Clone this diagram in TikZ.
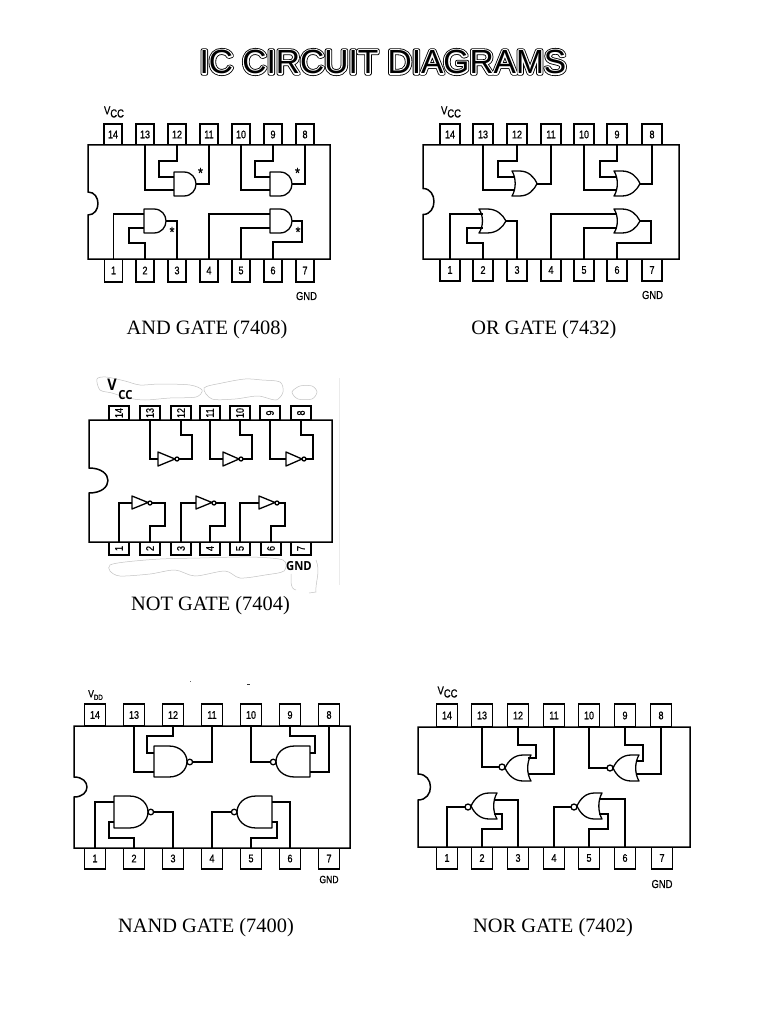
\documentclass[tikz,border=0pt]{standalone}
\usepackage{fontspec}
\usepackage{graphicx}
\setmainfont{Liberation Serif}
\newfontfamily\pinf[FakeStretch=.82,FakeBold=.9]{Liberation Sans}
\newfontfamily\nbf[FakeStretch=.9]{Open Sans}
\newfontfamily\titA[FakeBold=13]{Liberation Sans}
\newfontfamily\titB[FakeBold=8]{Liberation Sans}
\newfontfamily\titC{Liberation Sans}
\newcommand\pinlab[1]{#1}
\tikzset{
  x=1pt,y=-1pt,
  pinbox/.style={draw=black,fill=white,line width=1.3pt,inner sep=0pt,outer sep=0pt,font=\pinf\fontsize{11}{11}\selectfont},
  bodyline/.style={draw=black,fill=white,line width=1.5pt,line join=miter},
  gateline/.style={draw=black,fill=white,line width=1.3pt,line join=round},
  wire/.style={draw=black,line width=1.2pt,line join=miter},
  captext/.style={inner sep=0pt,font=\fontsize{20.4}{20}\selectfont},
  lab/.style={inner sep=0pt,font=\pinf\fontsize{11.5}{11}\selectfont},
  smudge/.style={draw=black!24,line width=.5pt},
  starmark/.style={inner sep=0pt,font=\pinf\fontsize{15}{15}\selectfont},
}
% chip: prefix, x1,x2,y1,y2, notch cy, r, bulge, pin width, pin top y, pin bottom y, top list, bottom list
\newcommand\chip[9]{%
  \def\chP{#1}\def\chXa{#2}\def\chXb{#3}\def\chYa{#4}\def\chYb{#5}\def\chC{#6}\def\chR{#7}\def\chB{#8}\def\chW{#9}\chipB}
\newcommand\chipB[4]{%
  \pgfmathsetmacro\phT{\chYa-#1}\pgfmathsetmacro\phB{#2-\chYb}
  \pgfmathsetmacro\cyT{(\chYa+#1)/2}\pgfmathsetmacro\cyB{(\chYb+#2)/2}
  \foreach \n/\px in {#3}{\node[pinbox,minimum width=\chW pt,minimum height=\phT pt] (\chP\n) at (\px,\cyT) {\pinlab{\n}};}
  \foreach \n/\px in {#4}{\node[pinbox,minimum width=\chW pt,minimum height=\phB pt] (\chP\n) at (\px,\cyB) {\pinlab{\n}};}
  \pgfmathsetmacro\nA{\chC-\chR}\pgfmathsetmacro\nB{\chC+\chR}
  \pgfmathsetmacro\nX{\chXa+\chB*1.33}
  \draw[bodyline] (\chXa,\chYa) -- (\chXb,\chYa) -- (\chXb,\chYb) -- (\chXa,\chYb) -- (\chXa,\nB)
     .. controls (\nX,\nB) and (\nX,\nA) .. (\chXa,\nA) -- cycle;
}
% unit gate outlines (back side at x=0, tip at x=1)
\def\shAnd{(0,0) -- (.45,0) .. controls (.8,0) and (1,.25) .. (1,.5) .. controls (1,.75) and (.8,1) .. (.45,1) -- (0,1) -- cycle}
\def\shOr{(0,0) -- (.3,0) .. controls (.65,0) and (.87,.22) .. (1,.5) .. controls (.87,.78) and (.65,1) .. (.3,1) -- (0,1) .. controls (.17,.72) and (.17,.28) .. (0,0) -- cycle}
\def\shNot{(0,0) -- (1,.5) -- (0,1) -- cycle}
% gate: name, shape, back x, tip x, top y, bottom y, input a y, input b y, output y, inset, bubble radius
\newcommand\gate[9]{%
  \def\gN{#1}\def\gS{#2}\def\gXa{#3}\def\gXb{#4}\def\gYa{#5}\def\gYb{#6}\def\gIa{#7}\def\gIb{#8}\def\gO{#9}\gateB}
\newcommand\gateB[2]{%
  \pgfmathsetmacro\gW{\gXb-\gXa}\pgfmathsetmacro\gH{\gYb-\gYa}
  \pgfmathsetmacro\gSg{ifthenelse(\gW>0,1,-1)}
  \pgfmathsetmacro\gIn{\gXa+#1*\gW}
  \pgfmathsetmacro\gC{\gXb+\gSg*#2}
  \pgfmathsetmacro\gE{\gXb+\gSg*2*#2}
  \coordinate (\gN a) at (\gIn,\gIa);
  \coordinate (\gN b) at (\gIn,\gIb);
  \coordinate (\gN o) at (\gE,\gO);
  \begin{scope}[shift={(\gXa,\gYa)},x={(\gW pt,0pt)},y={(0pt,-\gH pt)}]
    \path[gateline] \gS;
  \end{scope}
  \ifdim #2pt>0pt
    \draw[gateline] (\gC,\gO) circle[radius=#2];
  \fi
}
\begin{document}
\begin{tikzpicture}
\useasboundingbox (0,0) rectangle (768,1024);
\fill[white] (0,0) rectangle (768,1024);

% title
\node[inner sep=0pt,text=black,font=\titA\fontsize{33.5}{34}\selectfont] (t1) at (383,62) {\special{pdf:code q 1 j 1 J}IC CIRCUIT DIAGRAMS\special{pdf:code Q}};
\node[inner sep=0pt,text=white,font=\titB\fontsize{33.5}{34}\selectfont] (t2) at (383,62) {\special{pdf:code q 1 j 1 J}IC CIRCUIT DIAGRAMS\special{pdf:code Q}};
\node[inner sep=0pt,text=black,font=\titC\fontsize{33.5}{34}\selectfont] (t3) at (383,62) {IC CIRCUIT DIAGRAMS};

% ---------- AND 7408
\chip{a}{88}{330}{145}{259}{203.5}{11.5}{10}{18}{124}{282}
  {14/113,13/145,12/177,11/209,10/241,9/273,8/305}{1/113.5,2/145,3/177,4/209,5/241,6/273,7/305}
\gate{ag1}{\shAnd}{174}{196}{172}{196}{177}{190}{184}{0}{0}
\gate{ag2}{\shAnd}{270}{292}{172}{196}{177}{190}{184}{0}{0}
\gate{ag3}{\shAnd}{144}{166}{209}{233}{214}{228}{221}{0}{0}
\gate{ag4}{\shAnd}{270}{292}{209}{233}{214}{228}{221}{0}{0}
\draw[wire] (a13.south) |- (ag1b);
\draw[wire] (a12.south) |- (159,161) |- (ag1a);
\draw[wire] (ag1o) -| (a11.south);
\draw[wire] (a10.south) |- (ag2b);
\draw[wire] (a9.south) |- (255,161) |- (ag2a);
\draw[wire] (ag2o) -| (a8.south);
\draw[wire] (a1.north) |- (ag3a);
\draw[wire] (a2.north) |- (129,243) |- (ag3b);
\draw[wire] (ag3o) -| (a3.north);
\draw[wire,line width=1.5pt] (a4.north) |- (ag4a);
\draw[wire] (a5.north) |- (ag4b);
\draw[wire] (ag4o) -| (302,242) -| (a6.north);
\node[lab] (av) at (114,112) {V\raisebox{-3pt}{CC}};
\node[lab] (ag) at (306.5,296) {GND};
\node[starmark] (as1) at (200.5,173) {*};
\node[starmark] (as2) at (297.5,173) {*};
\node[starmark] (as3) at (172,232) {*};
\node[starmark] (as4) at (298,232) {*};
\node[captext] (ac) at (207,330) {AND GATE (7408)};

% ---------- OR 7432
\chip{o}{423}{679}{145}{259}{201.5}{13}{11}{20}{124}{281}
  {14/450,13/483,12/517,11/551,10/584,9/617,8/652}{1/450,2/483,3/517,4/551,5/584,6/617,7/652}
\gate{og1}{\shOr}{512}{537}{171}{196}{177}{190}{184}{.13}{0}
\gate{og2}{\shOr}{614}{640}{171}{196}{177}{190}{184}{.13}{0}
\gate{og3}{\shOr}{479}{506}{209}{233}{214}{228}{221}{.13}{0}
\gate{og4}{\shOr}{614}{640}{209}{233}{214}{228}{221}{.13}{0}
\draw[wire] (o13.south) |- (og1b);
\draw[wire] (o12.south) |- (498,161) |- (og1a);
\draw[wire] (og1o) -| (o11.south);
\draw[wire] (o10.south) |- (og2b);
\draw[wire] (o9.south) |- (600,161) |- (og2a);
\draw[wire] (og2o) -| (o8.south);
\draw[wire] (o1.north) |- (og3a);
\draw[wire] (o2.north) |- (467,243) |- (og3b);
\draw[wire] (og3o) -| (o3.north);
\draw[wire] (o4.north) |- (og4a);
\draw[wire] (o5.north) |- (og4b);
\draw[wire] (og4o) -| (651,243) -| (o6.north);
\node[lab] (ov) at (451,112) {V\raisebox{-3pt}{CC}};
\node[lab] (og) at (652.5,295) {GND};
\node[captext] (oc) at (544,330) {OR GATE (7432)};

% ---------- NOT 7404
\draw[smudge] plot[smooth cycle] coordinates {(97,379) (106,377) (125,381) (140,385) (160,384) (190,385) (202,390) (196,397) (170,398) (145,400) (128,398) (112,393) (100,390)};
\draw[smudge] plot[smooth cycle] coordinates {(204,388) (222,383) (245,379) (262,380) (280,382) (283,392) (276,400) (258,396) (235,399) (212,399)};
\draw[smudge] plot[smooth cycle] coordinates {(292,392) (300,386) (312,386) (317,392) (312,399) (298,399)};
\draw[smudge] plot[smooth cycle] coordinates {(110,565) (125,562) (160,559) (200,558) (250,557) (283,560) (284,571) (265,575) (240,578) (225,571) (195,576) (175,570) (150,574) (120,576) (110,571)};
\draw[smudge] (291,574) .. controls (292,582) and (289,588) .. (296,590) (316,560) .. controls (321,572) and (315,582) .. (316,592) -- (309,593);
\draw[black!8,line width=.6pt] (339,378) -- (339,585);
\renewcommand\pinlab[1]{\rotatebox{90}{#1}}
\chip{n}{89}{332}{420}{542}{480.5}{12.5}{19}{20}{406}{555}
  {14/119,13/150,12/181,11/210,10/240,9/270,8/301}{1/119,2/150,3/181,4/210,5/240,6/271,7/301}
\renewcommand\pinlab[1]{#1}
\gate{ng1}{\shNot}{158}{175}{452}{466}{459}{459}{459}{0}{2}
\gate{ng2}{\shNot}{223}{239}{452}{466}{459}{459}{459}{0}{2}
\gate{ng3}{\shNot}{286}{302}{452}{466}{459}{459}{459}{0}{2}
\gate{ng4}{\shNot}{132}{148}{496}{509}{503}{503}{503}{0}{2}
\gate{ng5}{\shNot}{196}{212}{496}{509}{503}{503}{503}{0}{2}
\gate{ng6}{\shNot}{259}{275}{496}{509}{503}{503}{503}{0}{2}
\draw[wire] (n13.south) |- (ng1a);
\draw[wire] (n12.south) |- (192,435) |- (ng1o);
\draw[wire] (n11.south) |- (ng2a);
\draw[wire] (n10.south) |- (252,435) |- (ng2o);
\draw[wire] (n9.south) |- (ng3a);
\draw[wire] (n8.south) |- (313,435) |- (ng3o);
\draw[wire] (n1.north) |- (ng4a);
\draw[wire] (n2.north) |- (165,526) |- (ng4o);
\draw[wire] (n3.north) |- (ng5a);
\draw[wire] (n4.north) |- (225,526) |- (ng5o);
\draw[wire] (n5.north) |- (ng6a);
\draw[wire] (n6.north) |- (285,526) |- (ng6o);
\node[inner sep=0pt,font=\nbf\fontsize{16}{16}\selectfont\bfseries] (nv) at (112,385) {V};
\node[inner sep=0pt,font=\nbf\fontsize{12.5}{12}\selectfont\bfseries] (nv2) at (125.5,395) {CC};
\node[inner sep=0pt,font=\nbf\fontsize{12.5}{12}\selectfont\bfseries] (ng) at (299,566) {GND};
\node[captext] (nc) at (210.5,606) {NOT GATE (7404)};

% ---------- NAND 7400
\chip{d}{74}{350}{726}{848}{787}{10}{13}{21}{704}{869}
  {14/95,13/134,12/173,11/212,10/251,9/290,8/329}{1/95,2/134,3/173,4/212,5/251,6/290,7/329}
\gate{dg1}{\shAnd}{154}{187}{746}{777}{753}{772}{762}{0}{2.8}
\gate{dg2}{\shAnd}{310}{276}{746}{777}{753}{772}{762}{0}{2.8}
\gate{dg3}{\shAnd}{114}{148}{796}{828}{802}{822}{812}{0}{2.8}
\gate{dg4}{\shAnd}{272}{237}{796}{828}{802}{822}{812}{0}{2.8}
\draw[wire] (d13.south) |- (dg1b);
\draw[wire] (d12.south) |- (147,736) |- (dg1a);
\draw[wire] (dg1o) -| (d11.south);
\draw[wire] (dg2o) -| (d10.south);
\draw[wire] (d9.south) |- (315,736) |- (dg2a);
\draw[wire] (d8.south) |- (dg2b);
\draw[wire] (d1.north) |- (dg3a);
\draw[wire] (d2.north) |- (109,838) |- (dg3b);
\draw[wire] (dg3o) -| (d3.north);
\draw[wire] (dg4o) -| (d4.north);
\draw[wire] (d5.north) |- (277,838) |- (dg4b);
\draw[wire] (d6.north) |- (dg4a);
\node[inner sep=0pt,font=\pinf\fontsize{10.5}{10}\selectfont] (dv) at (95.5,695) {V\raisebox{-2.5pt}{\fontsize{7.5}{7}\selectfont DD}};
\node[inner sep=0pt,font=\pinf\fontsize{10.5}{10}\selectfont] (dgn) at (329,879.5) {GND};
\node[captext] (dc) at (206,928) {NAND GATE (7400)};
\fill[black!60] (190,680.5) rectangle (191,681.2);
\fill[black!80] (246.5,684) rectangle (249.5,685);

% ---------- NOR 7402
\chip{r}{418}{690}{727}{847}{787}{13}{12.5}{21}{704}{869}
  {14/447,13/482,12/518,11/554,10/589,9/625,8/661}{1/447,2/482,3/518,4/554,5/589,6/625,7/662}
\gate{rg1}{\shOr}{531}{505}{755}{781}{758}{774}{767}{.13}{3}
\gate{rg2}{\shOr}{639}{613}{755}{781}{761}{774}{768}{.13}{3}
\gate{rg3}{\shOr}{497}{471}{793}{819}{800}{814}{807}{.13}{3}
\gate{rg4}{\shOr}{602}{577}{793}{819}{799}{814}{807}{.13}{3}
\draw[wire] (rg1o) -| (r13.south);
\draw[wire] (r12.south) |- (536,745) |- (rg1a);
\draw[wire] (r11.south) |- (rg1b);
\draw[wire] (rg2o) -| (r10.south);
\draw[wire] (r9.south) |- (643,745) |- (rg2a);
\draw[wire] (r8.south) |- (rg2b);
\draw[wire] (rg3o) -| (r1.north);
\draw[wire] (r2.north) |- (502,829) |- (rg3b);
\draw[wire] (r3.north) |- (rg3a);
\draw[wire] (rg4o) -| (r4.north);
\draw[wire] (r5.north) |- (608,829) |- (rg4b);
\draw[wire] (r6.north) |- (rg4a);
\node[lab] (rv) at (447.5,692) {V\raisebox{-3pt}{CC}};
\node[lab] (rgn) at (662,884) {GND};
\node[captext] (rc) at (553,928) {NOR GATE (7402)};
\end{tikzpicture}
\end{document}
